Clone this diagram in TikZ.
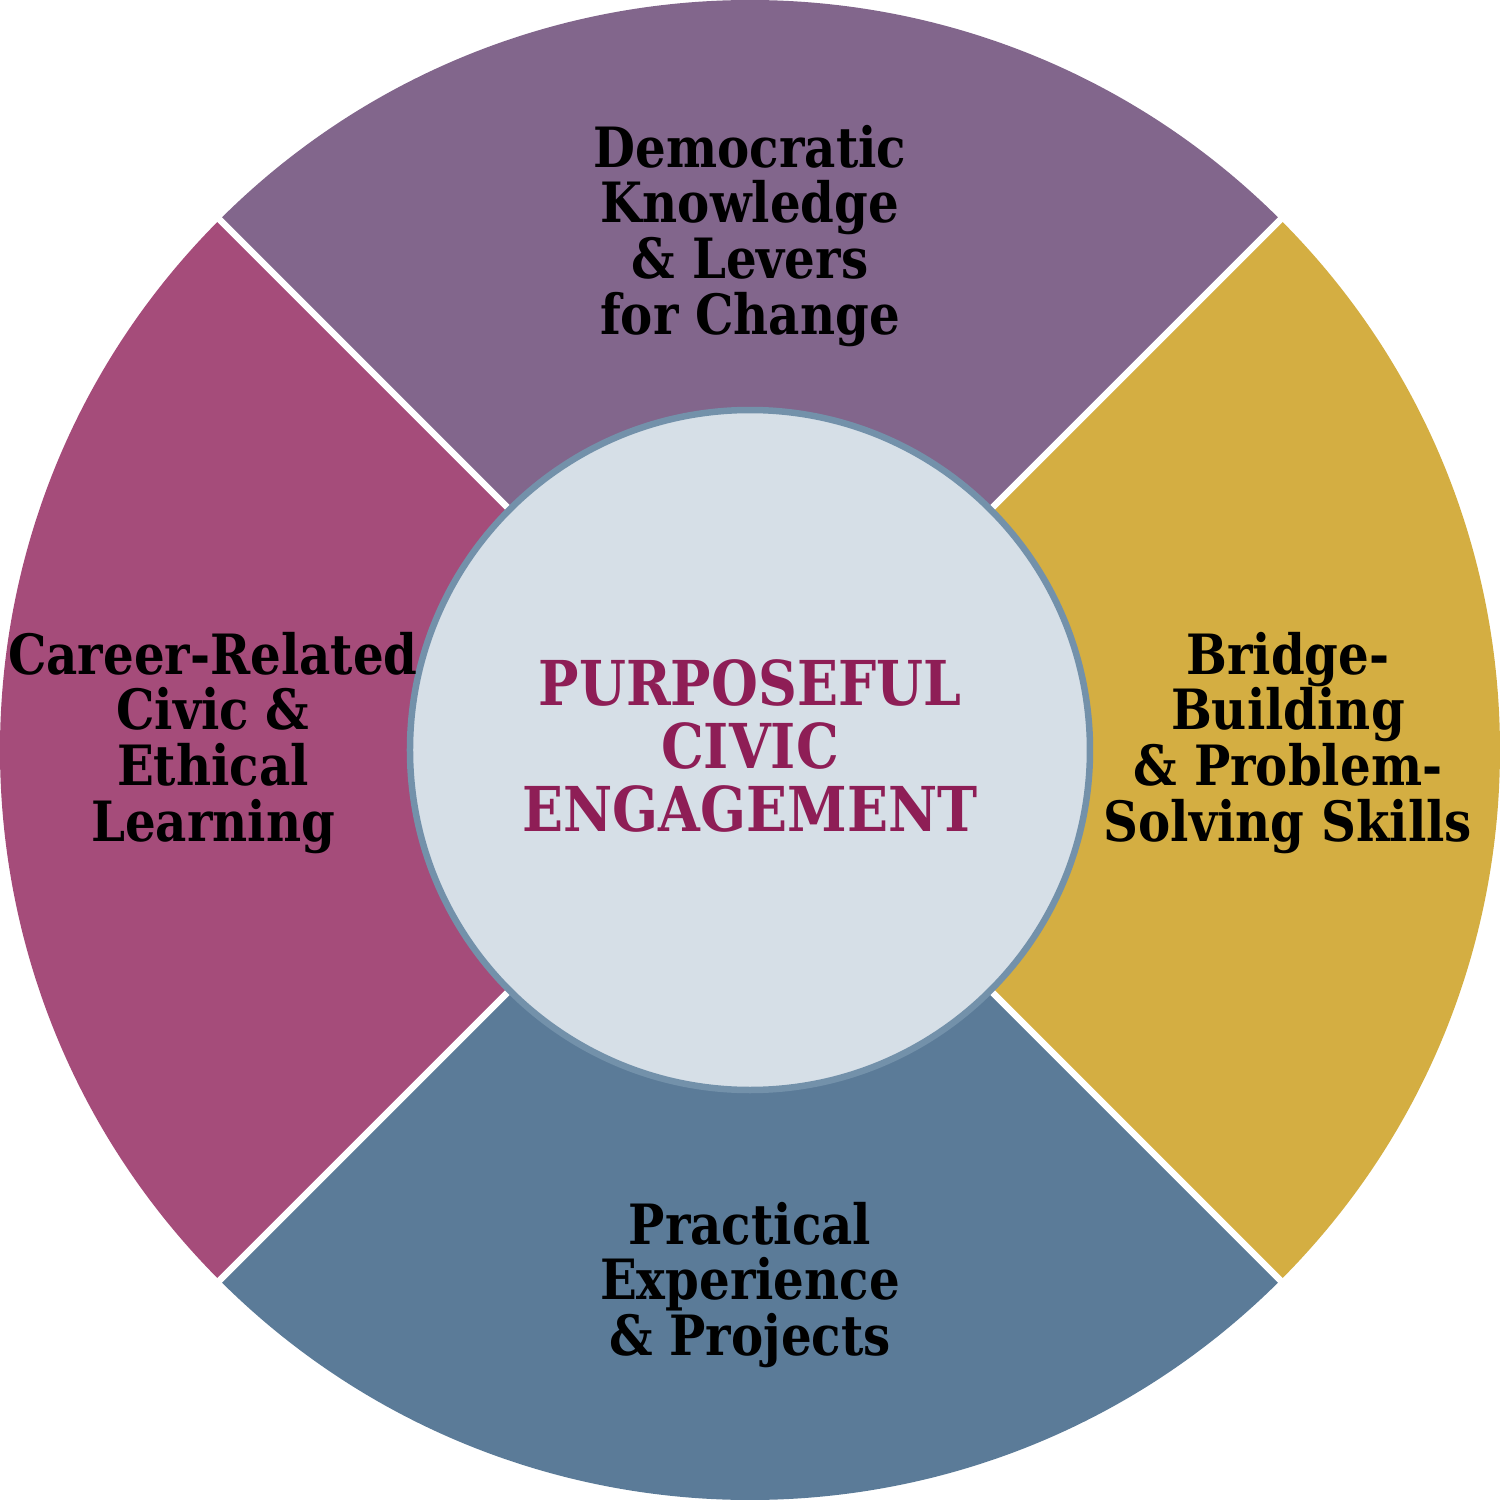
\documentclass[tikz,border=0pt]{standalone}
\usepackage{fontspec}
\setmainfont{DejaVu Serif}[FakeStretch=0.87]
\definecolor{democ}{HTML}{82668C}
\definecolor{career}{HTML}{A54C7A}
\definecolor{bridge}{HTML}{D4AE42}
\definecolor{practic}{HTML}{5B7B98}
\definecolor{hubfill}{HTML}{D6DFE7}
\definecolor{hubline}{HTML}{7391AA}
\definecolor{hubtext}{HTML}{8E1E56}
\tikzset{font=\bfseries\fontsize{15.8}{15.9}\selectfont}

\begin{document}
\begin{tikzpicture}[every node/.style={align=center,inner sep=0pt}]
      \useasboundingbox (-7.5,-7.5) rectangle (7.5,7.5);

      \fill[democ] (0,0) -- (45:7.5) arc (45:135:7.5) -- cycle;
      \fill[career] (0,0) -- (135:7.5) arc (135:225:7.5) -- cycle;
      \fill[practic] (0,0) -- (225:7.5) arc (225:315:7.5) -- cycle;
      \fill[bridge] (0,0) -- (315:7.5) arc (315:405:7.5) -- cycle;
      \draw[white,line width=0.065cm] (45:7.6) -- (225:7.6);
      \draw[white,line width=0.065cm] (135:7.6) -- (315:7.6);

      \node[circle,draw=hubline,fill=hubfill,line width=0.065cm,minimum size=6.8cm] (hub) at (0,0) {};
      \node[text=hubtext,font=\bfseries\fontsize{17.6}{17.9}\selectfont] (title) at (0,0.04) {PURPOSEFUL\\CIVIC\\ENGAGEMENT};

      \node (DK) at (0,5.14) {Democratic\\Knowledge\\\& Levers\\for Change};
      \node (CR) at (-5.37,0.07) {Career-Related\\Civic \&\\Ethical\\Learning};
      \node (BB) at (5.38,0.07) {Bridge-\\Building\\\& Problem-\\Solving Skills};
      \node (PE) at (0,-5.35) {Practical\\Experience\\\& Projects};
\end{tikzpicture}
\end{document}
